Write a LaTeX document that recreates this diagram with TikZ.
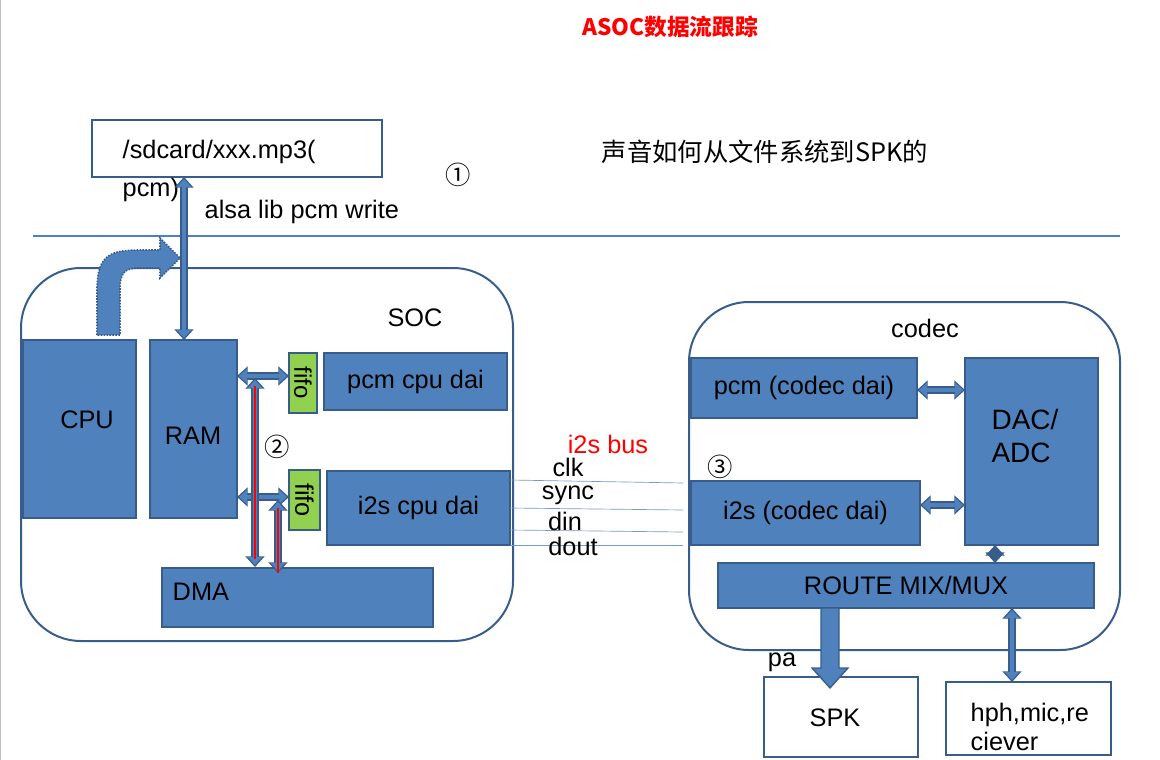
\documentclass[tikz,border=0pt]{standalone}
\usepackage{fontspec}
\setmainfont{Liberation Sans}
\newfontfamily\cjk{Noto Sans CJK SC}
\usetikzlibrary{arrows.meta}
\definecolor{bfill}{HTML}{4F81BD}
\definecolor{bdraw}{HTML}{385D8A}
\definecolor{gfill}{HTML}{92D050}
\begin{document}
\begin{tikzpicture}[x=0.75pt,y=-0.75pt,
 blk/.style={fill=bfill,draw=bdraw,line width=1.2pt},
 wbox/.style={draw=bdraw,line width=1.2pt,fill=white},
 grp/.style={draw=bdraw,line width=1.5pt,rounded corners=45pt},
 fifo/.style={fill=gfill,draw=bdraw,line width=1.2pt},
 fs/.style={font=\fontsize{19}{22}\selectfont},
 lbl/.style={fs,anchor=west},
 circ/.style={font=\cjk\fontsize{19}{22}\selectfont},
 dbl/.style={draw=bdraw,line width=6pt,{Triangle[length=8pt,width=14pt]}-{Triangle[length=8pt,width=14pt]}},
 dblin/.style={draw=bfill,line width=3.6pt,shorten <=1.5pt,shorten >=1.5pt,{Triangle[length=6pt,width=10.5pt]}-{Triangle[length=6pt,width=10.5pt]}},
 sig/.style={draw=bfill!80,line width=0.5pt}]
\useasboundingbox (0,0) rectangle (1160,760);
\draw[gray!50] (0,0) -- (0,760);
\node[text=red,font=\cjk\bfseries\fontsize{17}{20}\selectfont] (title) at (670,27) {ASOC数据流跟踪};
\node[font=\cjk\fontsize{19}{22}\selectfont] (desc) at (765,152) {声音如何从文件系统到SPK的};
% top file box
\draw[wbox] (92,120) rectangle (382,177);
\node[lbl] at (118,152) {/sdcard/xxx.mp3(};
\node[lbl] at (118,190) {pcm)};
\node[circ] at (458,175) {①};
\node[lbl] at (200,212) {alsa lib pcm write};
\draw[bfill,line width=1.5pt] (33,236) -- (1120,236);
% SOC
\draw[grp] (21,268) rectangle (513,641);
\node[fs] at (415,318) {SOC};
\node[blk,fs,minimum width=113*0.75pt,minimum height=178*0.75pt] (cpu) at (79.5,429) {};
\node[fs] at (87,420) {CPU};
\node[blk,minimum width=87*0.75pt,minimum height=178*0.75pt] (ram) at (193.5,429) {};
\node[fs] at (193,436) {RAM};
\node[fifo,minimum width=28*0.75pt,minimum height=60*0.75pt,inner sep=0pt] (f1) at (303,383) {};
\node[rotate=-90,font=\fontsize{18}{20}\selectfont] at (f1) {fifo};
\node[fifo,minimum width=31*0.75pt,minimum height=60*0.75pt,inner sep=0pt] (f2) at (304.5,500) {};
\node[rotate=-90,font=\fontsize{19}{20}\selectfont] at (f2) {fifo};
\node[blk,fs,minimum width=183*0.75pt,minimum height=57*0.75pt] (pcd) at (415.5,381.5) {pcm cpu dai};
\node[blk,fs,minimum width=183*0.75pt,minimum height=74*0.75pt] (icd) at (418.5,508) {i2s cpu dai};
\node[blk,minimum width=271*0.75pt,minimum height=59*0.75pt] (dma) at (297.5,597.5) {};
\node[lbl] at (168,592) {DMA};
% dotted bent arrow
\draw[densely dotted,draw=bdraw,line width=1.2pt,fill=bfill]
 (97,335) -- (97,290) .. controls (97,255) and (110,250) .. (140,250) -- (160,250) -- (160,238)
 -- (180,258) -- (160,278) -- (160,268) -- (140,268) .. controls (125,268) and (120,272) .. (120,290) -- (120,335) -- cycle;
% vertical arrow file <-> RAM
\draw[dbl] (184,177) -- (184,340);
\draw[dblin] (184,177) -- (184,340);
% RAM <-> fifo
\draw[dbl] (237,376) -- (289,376);
\draw[dblin] (237,376) -- (289,376);
\draw[dbl] (237,497) -- (289,497);
\draw[dblin] (237,497) -- (289,497);
\draw[dbl] (255,378) -- (255,567);
\draw[dblin] (255,378) -- (255,567);
\draw[red,line width=1.3pt] (255,386) -- (255,559);
\draw[dbl] (278,500) -- (278,573);
\draw[dblin] (278,500) -- (278,573);
\draw[red,line width=1.3pt] (278,508) -- (278,573);
\node[circ] at (277,447) {②};
% codec
\draw[grp] (689,302) rectangle (1120,650);
\node[fs] at (925,328) {codec};
\node[blk,fs,minimum width=226*0.75pt,minimum height=60*0.75pt] (pcc) at (804,388) {pcm (codec dai)};
\node[blk,fs,minimum width=229*0.75pt,minimum height=64*0.75pt] (icc) at (805.5,513) {i2s (codec dai)};
\node[blk,minimum width=133*0.75pt,minimum height=187*0.75pt] (dac) at (1031.5,451.5) {};
\node[align=left,font=\fontsize{21}{25}\selectfont] at (1025,436) {DAC/\\ADC};
\node[blk,fs,minimum width=376*0.75pt,minimum height=45*0.75pt] (route) at (906,585.5) {ROUTE MIX/MUX};
\draw[dbl] (917,390) -- (965,390);
\draw[dblin] (917,390) -- (965,390);
\draw[dbl] (920,505) -- (965,505);
\draw[dblin] (920,505) -- (965,505);
\draw[dbl] (995,545) -- (995,563);
% SPK
\draw[wbox] (764,677) rectangle (918,757);
\node[fs] (spk) at (835,718) {SPK};
\draw[wbox] (946,682) rectangle (1111,755);
\node[lbl,align=left] (hph) at (966,727) {hph,mic,re\\ciever};
\draw[draw=bdraw,fill=bfill,line width=1pt] (821,608) -- (821,668) -- (812,668) -- (830,688) -- (848,668) -- (839,668) -- (839,608) -- cycle;
\node[fs] at (782,662) {pa};
\draw[dbl] (1012,608) -- (1012,682);
\draw[dblin] (1012,608) -- (1012,682);
% i2s bus
\node[text=red,fs] at (608,444) {i2s bus};
\node[circ] at (720,467) {③};
\draw[sig] (510,480) -- (683,483);
\draw[sig] (510,508) -- (683,510);
\draw[sig] (510,530) -- (683,532);
\draw[sig] (510,545) -- (683,545);
\node[fs] at (568,467) {clk};
\node[fs] at (568,495) {sync};
\node[fs] at (565,521) {din};
\node[fs] at (573,546) {dout};
\end{tikzpicture}
\end{document}
